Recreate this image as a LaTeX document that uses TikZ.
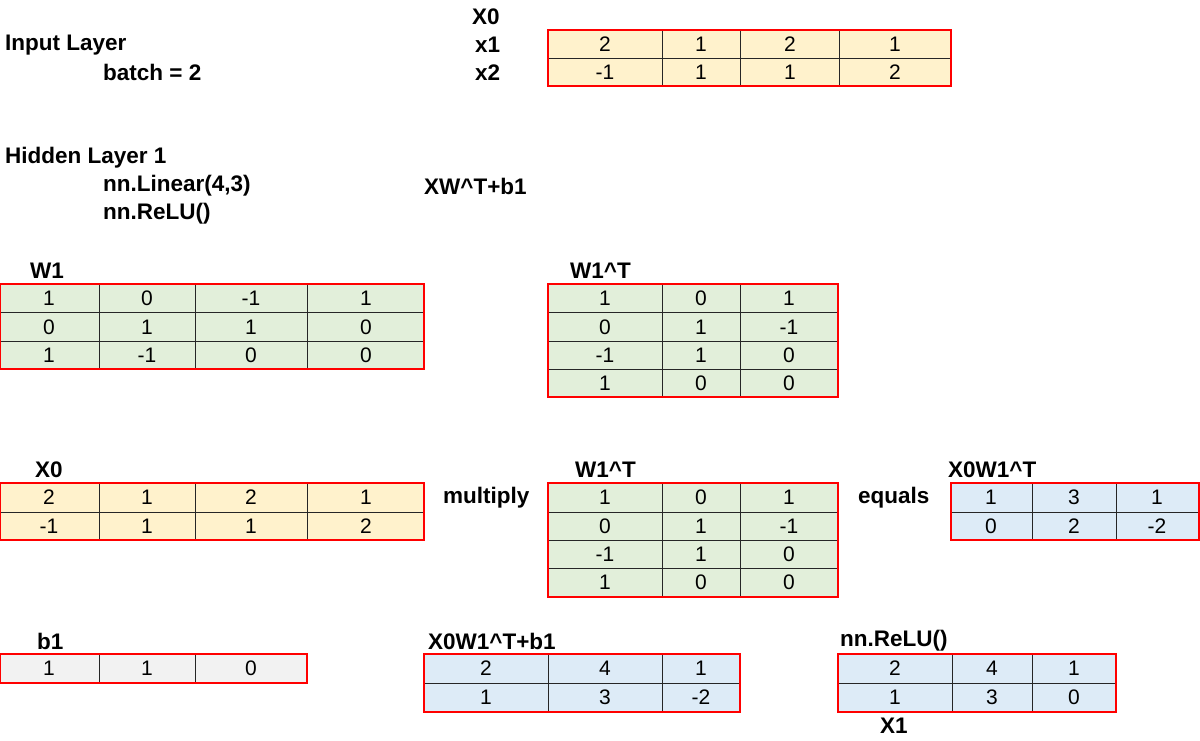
\documentclass[tikz,border=0pt]{standalone}
\usepackage{fontspec}
\setmainfont{Liberation Sans}
\begin{document}
\begin{tikzpicture}[x=1pt,y=-1pt,
  lbl/.style={anchor=west,inner sep=0pt,font=\fontsize{22.5}{26}\selectfont\bfseries},
  num/.style={inner sep=0pt,font=\fontsize{21}{24}\selectfont},
  grid/.style={draw=black!85,line width=0.9pt},
  frame/.style={draw=red,line width=1.6pt}]
\definecolor{cy}{HTML}{FFF2CC}
\definecolor{cg}{HTML}{E2EFDA}
\definecolor{cb}{HTML}{DDEBF7}
\definecolor{cgr}{HTML}{F2F2F2}
\useasboundingbox (0,0) rectangle (1200,741);
\newcommand\mytab[7]{%
  \fill[#2] (#3,#4) rectangle (#5,#6);
  #7
  \draw[frame] (#3,#4) rectangle (#5,#6);}
% ---- labels
\node[lbl] (l1) at (472,17) {X0};
\node[lbl] (l2) at (475,45) {x1};
\node[lbl] (l3) at (475,73) {x2};
\node[lbl] (l4) at (5,45) {Input Layer};
\node[lbl] (l5) at (103,72) {batch = 2};
\node[lbl] (l6) at (5,158) {Hidden Layer 1};
\node[lbl] (l7) at (103,186) {nn.Linear(4,3)};
\node[lbl] (l8) at (103,214) {nn.ReLU()};
\node[lbl] (l9) at (424,186) {XW\textasciicircum T+b1};
\node[lbl] (l10) at (30,271) {W1};
\node[lbl] (l11) at (570,271) {W1\textasciicircum T};
\node[lbl] (l12) at (35,470) {X0};
\node[lbl] (l13) at (443,498) {multiply};
\node[lbl] (l14) at (575,470) {W1\textasciicircum T};
\node[lbl] (l15) at (858,498) {equals};
\node[lbl] (l16) at (948,470) {X0W1\textasciicircum T};
\node[lbl] (l17) at (37,641) {b1};
\node[lbl] (l18) at (428,641) {X0W1\textasciicircum T+b1};
\node[lbl] (l19) at (840,641) {nn.ReLU()};
\node[lbl] (l20) at (880,726) {X1};
% ---- top X0
\mytab{a}{cy}{548}{30}{951}{86}{%
 \draw[grid] (548,58)--(951,58) (662,30)--(662,86) (740,30)--(740,86) (839,30)--(839,86);
 \foreach \x/\y/\v [count=\i] in {605/44/2,701/44/1,790/44/2,895/44/1,605/72/-1,701/72/1,790/72/1,895/72/2}
   \node[num] (a\i) at (\x,\y) {\v};}
% ---- W1
\mytab{b}{cg}{0}{284}{424}{369}{%
 \draw[grid] (0,312)--(424,312) (0,341)--(424,341) (99,284)--(99,369) (195,284)--(195,369) (307,284)--(307,369);
 \foreach \x/\y/\v [count=\i] in {49/298/1,147/298/0,251/298/-1,366/298/1,49/327/0,147/327/1,251/327/1,366/327/0,49/355/1,147/355/-1,251/355/0,366/355/0}
   \node[num] (b\i) at (\x,\y) {\v};}
% ---- W1^T upper
\mytab{c}{cg}{548}{284}{838}{397}{%
 \draw[grid] (548,312)--(838,312) (548,341)--(838,341) (548,369)--(838,369) (662,284)--(662,397) (740,284)--(740,397);
 \foreach \x/\y/\v [count=\i] in {605/298/1,701/298/0,789/298/1,605/327/0,701/327/1,789/327/-1,605/355/-1,701/355/1,789/355/0,605/383/1,701/383/0,789/383/0}
   \node[num] (c\i) at (\x,\y) {\v};}
% ---- X0 middle
\mytab{d}{cy}{0}{483}{424}{540}{%
 \draw[grid] (0,512)--(424,512) (99,483)--(99,540) (195,483)--(195,540) (307,483)--(307,540);
 \foreach \x/\y/\v [count=\i] in {49/497/2,147/497/1,251/497/2,366/497/1,49/526/-1,147/526/1,251/526/1,366/526/2}
   \node[num] (d\i) at (\x,\y) {\v};}
% ---- W1^T middle
\mytab{e}{cg}{548}{483}{838}{597}{%
 \draw[grid] (548,512)--(838,512) (548,540)--(838,540) (548,568)--(838,568) (662,483)--(662,597) (740,483)--(740,597);
 \foreach \x/\y/\v [count=\i] in {605/497/1,701/497/0,789/497/1,605/526/0,701/526/1,789/526/-1,605/554/-1,701/554/1,789/554/0,605/582/1,701/582/0,789/582/0}
   \node[num] (e\i) at (\x,\y) {\v};}
% ---- X0W1^T
\mytab{f}{cb}{951}{483}{1199}{540}{%
 \draw[grid] (951,512)--(1199,512) (1032,483)--(1032,540) (1116,483)--(1116,540);
 \foreach \x/\y/\v [count=\i] in {991/497/1,1074/497/3,1157/497/1,991/526/0,1074/526/2,1157/526/-2}
   \node[num] (f\i) at (\x,\y) {\v};}
% ---- b1
\mytab{g}{cgr}{0}{654}{307}{683}{%
 \draw[grid] (99,654)--(99,683) (195,654)--(195,683);
 \foreach \x/\y/\v [count=\i] in {49/668/1,147/668/1,251/668/0}
   \node[num] (g\i) at (\x,\y) {\v};}
% ---- X0W1^T+b1
\mytab{h}{cb}{424}{654}{740}{712}{%
 \draw[grid] (424,683)--(740,683) (548,654)--(548,712) (662,654)--(662,712);
 \foreach \x/\y/\v [count=\i] in {486/668/2,605/668/4,701/668/1,486/697/1,605/697/3,701/697/-2}
   \node[num] (h\i) at (\x,\y) {\v};}
% ---- ReLU
\mytab{k}{cb}{838}{654}{1116}{712}{%
 \draw[grid] (838,683)--(1116,683) (952,654)--(952,712) (1032,654)--(1032,712);
 \foreach \x/\y/\v [count=\i] in {895/668/2,992/668/4,1074/668/1,895/697/1,992/697/3,1074/697/0}
   \node[num] (k\i) at (\x,\y) {\v};}
\end{tikzpicture}
\end{document}
